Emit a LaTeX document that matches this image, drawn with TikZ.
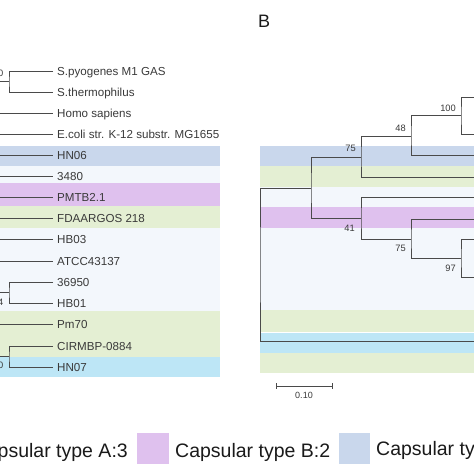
\documentclass[tikz,border=0pt]{standalone}
\usepackage{fontspec}
\setmainfont{Liberation Sans}
\definecolor{bandblue}{HTML}{C9D7EC}
\definecolor{bandpink}{HTML}{DFC1EE}
\definecolor{bandgreen}{HTML}{E4EFD3}
\definecolor{bandcyan}{HTML}{BDE6F6}
\definecolor{bandlight}{HTML}{F3F7FC}
\definecolor{linegray}{HTML}{4A4A4A}
\definecolor{labgray}{HTML}{3A3A3A}
\definecolor{legtext}{HTML}{1A1A1A}
\begin{document}
\begin{tikzpicture}[x=1pt,y=-1pt,
  edge/.style={draw=linegray, line width=1pt},
  leaflab/.style={anchor=base west, inner sep=0pt, font=\fontsize{11.6}{13}\selectfont, text=labgray},
  bootlab/.style={anchor=base east, inner sep=0pt, font=\fontsize{9.3}{11}\selectfont, text=labgray},
  legtxt/.style={inner sep=0pt, font=\fontsize{19.5}{22}\selectfont, text=legtext}]
\useasboundingbox (0,0) rectangle (474,474);
\fill[white] (0,0) rectangle (474,474);

% ---------- bands, panel A ----------
\fill[bandblue]  (0,146) rectangle (220,166);
\fill[bandlight] (0,166) rectangle (220,183);
\fill[bandpink]  (0,183) rectangle (220,206);
\fill[bandgreen] (0,206) rectangle (220,228);
\fill[bandlight] (0,228) rectangle (220,311);
\fill[bandgreen] (0,311) rectangle (220,357);
\fill[bandcyan]  (0,357) rectangle (220,377);

% ---------- bands, panel B ----------
\fill[bandblue]  (260,146) rectangle (474,166);
\fill[bandgreen] (260,166) rectangle (474,187);
\fill[bandlight] (260,187) rectangle (474,207);
\fill[bandpink]  (260,207) rectangle (474,228);
\fill[bandlight] (260,228) rectangle (474,310);
\fill[bandgreen] (260,310) rectangle (474,332);
\fill[bandcyan]  (260,333) rectangle (474,353);
\fill[bandgreen] (260,353) rectangle (474,373);

% ---------- panel A tree ----------
\foreach \n/\y in {Spy/71,Sth/92,Homo/113,Ecoli/134,HN06/155,T3480/176,PMTB/197,FDA/218,HB03/239,ATCC/261,T36950/282,HB01/303,Pm70/324,CIRM/346,HN07/367}{
  \coordinate (e\n) at (53,\y);
}
\foreach \n/\y in {Homo/113,Ecoli/134,HN06/155,T3480/176,PMTB/197,FDA/218,HB03/239,ATCC/261,Pm70/324}{
  \coordinate (s\n) at (-5,\y);
  \draw[edge] (s\n) -- (e\n);
}
\coordinate (nA1) at (9,81.5);
\coordinate (nA2) at (9,292.5);
\coordinate (nA3) at (9,356.5);
\coordinate (sA1) at (-5,81.5);
\coordinate (sA2) at (-5,292.5);
\coordinate (sA3) at (-5,356.5);
\draw[edge] (eSpy) -| (nA1) |- (eSth);
\draw[edge] (eT36950) -| (nA2) |- (eHB01);
\draw[edge] (eCIRM) -| (nA3) |- (eHN07);
\draw[edge] (sA1) -- (nA1);
\draw[edge] (sA2) -- (nA2);
\draw[edge] (sA3) -- (nA3);

\node[leaflab] (tSpy)   at (57,75.3)  {S.pyogenes M1 GAS};
\node[leaflab] (tSth)   at (57,96.3)  {S.thermophilus};
\node[leaflab] (tHomo)  at (57,117.3) {Homo sapiens};
\node[leaflab] (tEcoli) at (57,138.3) {E.coli str. K-12 substr. MG1655};
\node[leaflab] (tHN06)  at (57,159.3) {HN06};
\node[leaflab] (t3480)  at (57,180.3) {3480};
\node[leaflab] (tPMTB)  at (57,201.3) {PMTB2.1};
\node[leaflab] (tFDA)   at (57,222.3) {FDAARGOS 218};
\node[leaflab] (tHB03)  at (57,243.3) {HB03};
\node[leaflab] (tATCC)  at (57,265.3) {ATCC43137};
\node[leaflab] (t36950) at (57,286.3) {36950};
\node[leaflab] (tHB01)  at (57,307.3) {HB01};
\node[leaflab] (tPm70)  at (57,328.3) {Pm70};
\node[leaflab] (tCIRM)  at (57,350.3) {CIRMBP-0884};
\node[leaflab] (tHN07)  at (57,371.3) {HN07};

\node[bootlab] (bA1) at (3.5,76.5)  {100};
\node[bootlab] (bA2) at (3.5,305.5) {94};
\node[bootlab] (bA3) at (3.5,368.5) {100};

% ---------- panel B ----------
\node[anchor=base west, inner sep=0pt, font=\fontsize{18}{20}\selectfont, text=legtext] (lblB) at (258,27) {B};

\coordinate (b1) at (474,97);
\coordinate (b2) at (474,134);
\coordinate (b3) at (474,155);
\coordinate (b4) at (474,177);
\coordinate (b5) at (474,197);
\coordinate (b6) at (474,219);
\coordinate (b7) at (474,239);
\coordinate (b8) at (474,277);
\coordinate (b9) at (474,341);
\coordinate (n100) at (461,115.5);
\coordinate (n48)  at (411,136);
\coordinate (n75)  at (361,157);
\coordinate (n0)   at (311,188);
\coordinate (n41)  at (361,218);
\coordinate (n75b) at (411,239);
\coordinate (n97)  at (461,258);
\coordinate (root) at (260,264.5);

\draw[edge] (b1) -| (n100) |- (b2);
\draw[edge] (n100) -| (n48) |- (b3);
\draw[edge] (n48) -| (n75) |- (b4);
\draw[edge] (n75) -| (n0) |- (n41);
\draw[edge] (b5) -| (n41) |- (n75b);
\draw[edge] (b6) -| (n75b) |- (n97);
\draw[edge] (b7) -| (n97) |- (b8);
\draw[edge] (n0) -| (root) |- (b9);

\node[bootlab] (l100) at (456,111.4) {100};
\node[bootlab] (l48)  at (406,131.4) {48};
\node[bootlab] (l75)  at (356,151.6) {75};
\node[bootlab] (l41)  at (355,231.6) {41};
\node[bootlab] (l75b) at (406,251.6) {75};
\node[bootlab] (l97)  at (456,271.6) {97};

% scale bar
\coordinate (sb1) at (276,386);
\coordinate (sb2) at (332,386);
\coordinate (sb1t) at (276,383);
\coordinate (sb1b) at (276,389);
\coordinate (sb2t) at (332,383);
\coordinate (sb2b) at (332,389);
\draw[edge] (sb1) -- (sb2);
\draw[edge] (sb1t) -- (sb1b);
\draw[edge] (sb2t) -- (sb2b);
\node[inner sep=0pt, anchor=base, font=\fontsize{9}{10}\selectfont, text=labgray] (sbl) at (304,398.5) {0.10};

% ---------- legend ----------
\node[legtxt, anchor=base east] (legA) at (128,457) {Capsular type A:3};
\fill[bandpink] (137,433) rectangle (169,464);
\node[legtxt, anchor=base west] (legB) at (175,457) {Capsular type B:2};
\fill[bandblue] (339,433) rectangle (370,464);
\node[legtxt, anchor=base west] (legD) at (376,455.5) {Capsular type D:1};
\end{tikzpicture}
\end{document}
